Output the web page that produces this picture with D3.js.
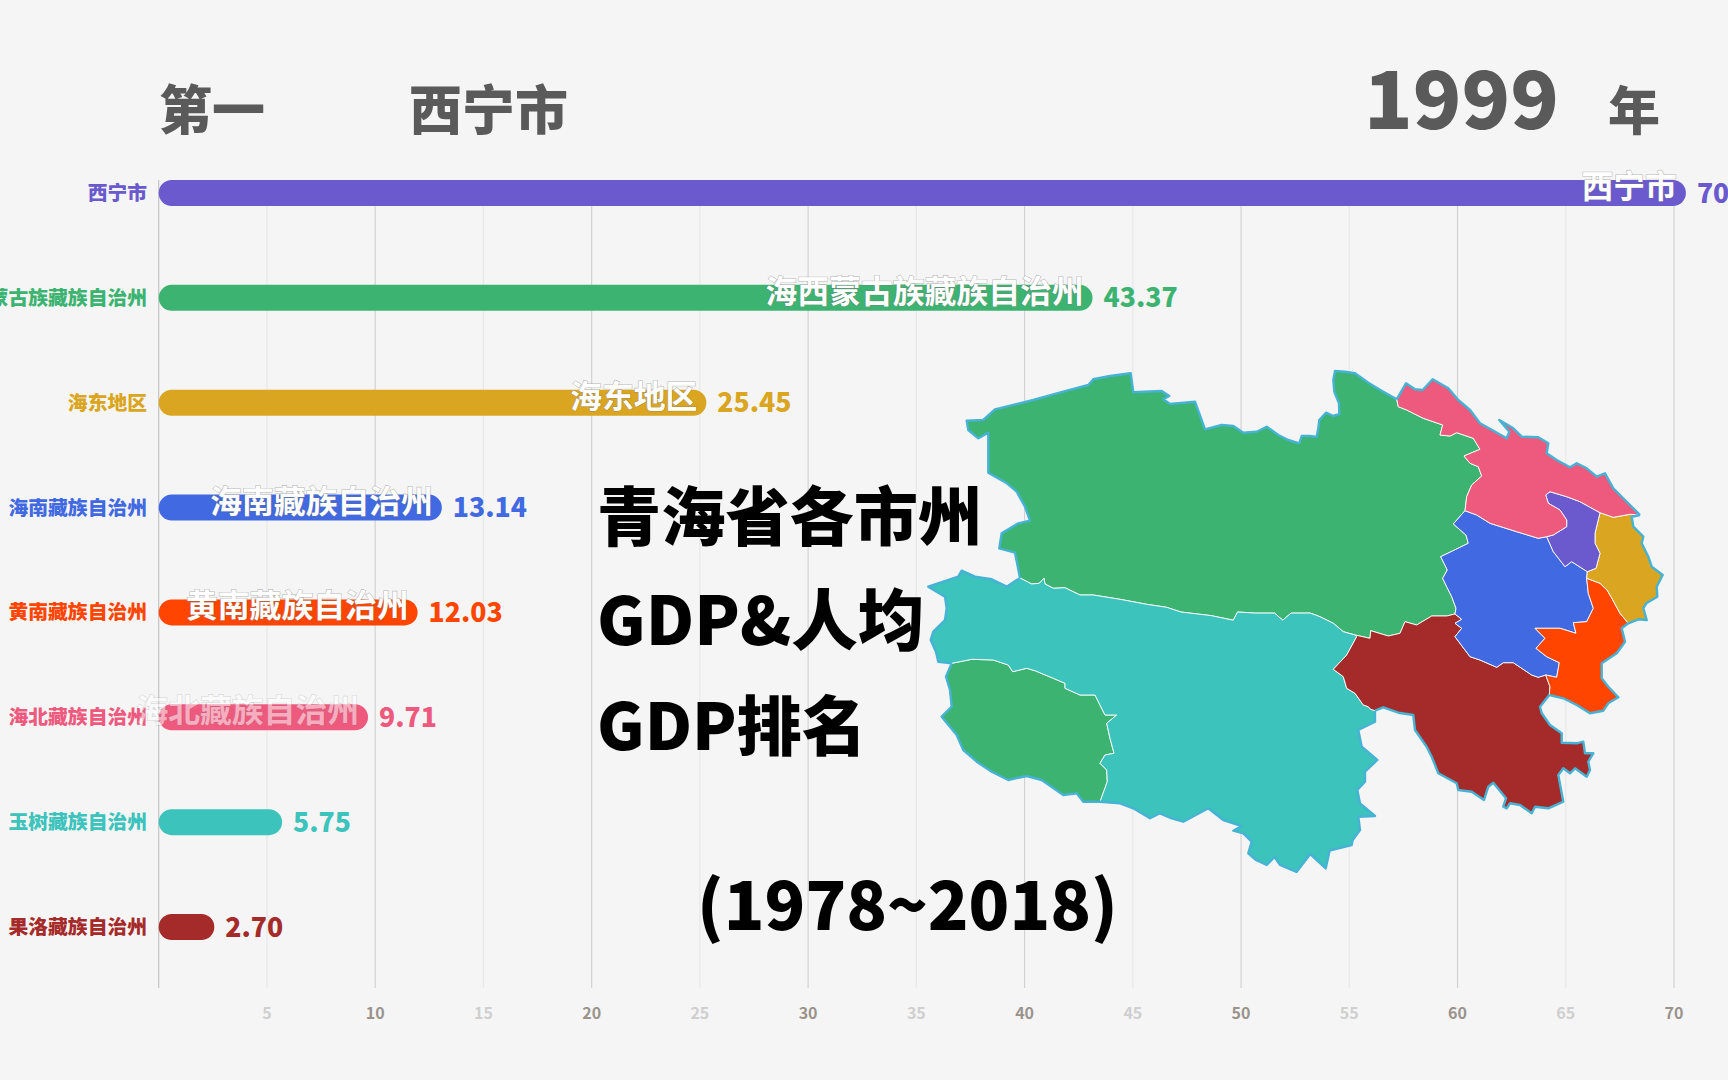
<!DOCTYPE html>
<html>
<head>
<meta charset="utf-8">
<script src="https://cdn.jsdelivr.net/npm/d3@7"></script>
<style>
  html, body { margin: 0; padding: 0; background: #f5f5f5; overflow: hidden; }
  svg { display: block; font-family: "Noto Sans CJK SC", sans-serif; }
</style>
</head>
<body>
<svg id="chart" width="1728" height="1080"></svg>
<script>
/* chart data */
const regions = ['西宁市', '海西蒙古族藏族自治州', '海东地区', '海南藏族自治州', '黄南藏族自治州', '海北藏族自治州', '玉树藏族自治州', '果洛藏族自治州'];
const labelValues = [70.81, 43.37, 25.45, 13.14, 12.03, 9.71, 5.75, 2.70];
// the bars lag a little behind their labels in this frame
const barValues = [70.55, 43.14, 25.30, 13.08, 11.96, 9.67, 5.70, 2.57];
const regionColors = ['#6a5acd', '#3cb371', '#daa520', '#4169e1', '#ff4500', '#ee5a7e', '#3bc3bc', '#a52a2a'];
const innerLabelOpacity = [1, 1, 1, 1, 1, 0.5, 0, 0];
const xTicks = [5, 10, 15, 20, 25, 30, 35, 40, 45, 50, 55, 60, 65, 70];
const titleLines = ['青海省各市州', 'GDP&人均', 'GDP排名'];

/* map outline, shared borders (map units) */
const arcNorth = [[496.7,39.3],[483.3,31.7],[468.3,22.7],[455,13.3],[445,11.7],[435,11],[433.3,20],[434.3,31.7],[439,43.3],[439.3,54],[433.3,56],[426,52.7],[419.3,60],[418.3,68.3],[416.7,77],[410,76],[401.7,76],[399.3,83.3],[388.3,80],[378.3,75],[366.7,66.7],[356.7,71.7],[343.3,72.7],[333.3,66],[321.7,65],[305,69.3],[295,41.7],[270,44],[263.3,39.3],[269.3,36],[261.7,31],[233.3,32.3],[230.7,13.3],[210,16],[193.3,19.3],[188.3,25],[163.3,31.7],[133.3,40],[95,49.3],[83.3,60],[66.7,60.7],[68.3,70],[78.3,78.3],[88.3,72.7],[88.3,112.7],[106,122.7],[116.7,131.7],[125,146.7],[130,160.7],[118.3,163.3],[101.7,173.3],[99.3,188.3],[115,192.7],[120,218]];
const arcHaixiYushu = [[120,218],[131.7,224],[139.3,223.3],[144,218.3],[145,224],[153.3,228.3],[165,227.7],[180,235],[193.3,235],[220,239.3],[246.7,244.3],[266.7,247.3],[280.8,252],[311.1,255.6],[333.2,260.2],[337.6,252],[355.2,253.1],[374.5,253.1],[382.8,260.2],[391,253.1],[410.3,253.1],[420,256.7],[433.3,263.3],[443.3,271.7],[455,275]];
const arcHaixiGuoluo = [[455,275],[470,278.3],[470.7,270.7],[488.3,276],[500,273.3],[505,261.7],[516.7,265],[531.7,256],[546.7,256],[555,254]];
const arcHaixiHainan = [[555,254],[556,248.3],[551.7,236.7],[546.7,226.7],[542.7,218.3],[547.3,210],[540.7,196.7],[568.3,183.3],[566,175],[553.3,164],[565,150.7]];
const arcHaixiHaibei = [[565,150.7],[566.7,136.7],[571.7,125],[581.7,116],[578.3,106.7],[570,103.3],[564,96],[580,89.3],[573.3,78.3],[556.7,72.7],[550,76],[540,75],[542.7,65],[523.3,58.3],[506.7,50],[498.3,46.7],[496.7,39.3]];
const arcHaibeiOuter = [[496.7,39.3],[506,23.3],[515,29.3],[522.7,30],[532.7,19.3],[548.3,28.3],[558.3,40],[570,50],[580,63.3],[606.7,78.3],[609.3,71.7],[599.3,60],[613.3,68.3],[621.7,76.7],[638.3,77.3],[648.3,83.3],[646.7,93.3],[656.7,100],[670,107.3],[676.7,103.3],[686.7,108.3],[696.7,116.7],[705,113.3],[713.3,128.3],[725,140],[740,155]];
const arcHaibeiHaidong = [[740,155],[730,154.3],[713.3,157.3],[700,152.7]];
const arcHaibeiXining = [[700,152.7],[680,141.7],[666.7,136.7],[650,131.7],[645.7,135],[648.3,143.3],[660,150],[666.7,160],[666.7,166.7],[653.3,175],[646.7,176.7]];
const arcHaibeiHainan = [[646.7,176.7],[638.3,178.3],[616.7,171.7],[590,163.3],[576.7,155],[565,150.7]];
const arcXiningHainan = [[646.7,176.7],[653.3,191.7],[665,206.7],[671.7,201.7],[687.3,211.7]];
const arcXiningHaidong = [[700,152.7],[695,173.3],[695,183.3],[700,193.3],[696,208.3],[687.3,211.7]];
const arcHaidongHainan = [[687.3,211.7],[686.7,218.3]];
const arcHaidongOuter = [[740,155],[731.7,156.7],[733.3,166.7],[743.3,176.7],[741.7,183.3],[748.3,196.7],[751.7,206.7],[762.7,215],[756.7,226.7],[757.3,236.7],[746.7,243],[743.3,248],[746.7,260],[738.3,259.3],[728.3,263.3]];
const arcHaidongHuangnan = [[728.3,263.3],[720,253.3],[711.7,238],[707,230],[700,223.3],[686.7,218.3]];
const arcHainanHuangnan = [[686.7,218.3],[688.3,233.3],[693.3,248.3],[686.7,261.7],[673.3,262.7],[676,273.3],[660,268.3],[635,268.3],[645,278.3],[636,288.3],[646.7,296.7],[659.3,302.7],[656.7,317.3],[645.7,315]];
const arcGuoluoHainan = [[645.7,315],[638.3,317.3],[631.7,315],[613.3,302.7],[603.3,302.7],[596.7,307.3],[580,300],[570,296.7],[555,276.7],[561.7,268.3],[555,263.3],[561.7,259.3],[555,254]];
const arcGuoluoHuangnan = [[645.7,315],[650,326.7],[649.3,335]];
const arcHuangnanOuter = [[649.3,335],[663.3,338.3],[676.7,345],[690,353.3],[703.3,350.7],[708.3,343.3],[718.3,337.3],[708.3,326.7],[701.7,318.3],[701.7,303.3],[716.7,293.3],[725,281.7],[721.7,268.3],[728.3,263.3]];
const arcGuoluoOuter = [[649.3,335],[640,346.7],[641.7,353.3],[650,365],[661.7,373.3],[661.7,382.7],[676.7,383.3],[683.3,381.7],[685,393.3],[693.3,393.3],[688.3,401.7],[690,410],[686.7,416.7],[675,408.3],[670,413.3],[663.3,408.3],[658.3,415],[661.7,433.3],[663.3,441.7],[648.3,448.3],[635,446.7],[631.7,453.3],[620,445],[610,443.3],[606.7,448.3],[603.3,446.7],[606,438.3],[593.3,422.7],[588.3,426.7],[584,440],[571.7,431.7],[558.3,430],[556.7,423.3],[538.3,413.3],[531.7,396.7],[526.7,386.7],[515,370],[513.3,355],[498.3,352.7],[483.3,347.3],[475,350.7]];
const arcGuoluoYushu = [[475,350.7],[470.7,349.3],[468.3,346.7],[463.3,345],[455,333.3],[446.7,328.3],[443.3,316.7],[433.3,309.3],[446.7,295],[456.7,276.7],[455,275]];
const arcYushuOuter = [[475,350.7],[475,361.7],[458.3,370],[461.7,386.7],[477.3,400],[465,411.7],[465,421.7],[457.3,430],[460,443.3],[475,456],[458.3,456.7],[460,470],[452.7,480],[451.6,485.2],[429.6,490.5],[425.7,508.4],[410.3,494],[396.5,512],[380,504.8],[374.5,497],[366.7,505],[356,500],[348.3,493.3],[351.7,481.7],[343.3,473.3],[333.3,470.7],[341.7,466],[323.3,460],[308.3,448.3],[283.3,461.7],[271.7,458.3],[260,453.3],[250,458.3],[233.3,448.3],[220,443.3],[200,441.7]];
const arcEnclaveOuter = [[200,441.7],[183.3,441.7],[176.7,433.3],[163.3,435],[141.7,420],[126.7,416],[108.3,420],[91.7,411.7],[76.7,401.7],[63.3,390],[56.7,375],[41.7,356.7],[51.7,346.7],[50,330],[46,316.7],[51.7,303.3]];
const arcEnclaveYushu = [[51.7,303.3],[65,300.7],[71.7,299.3],[93.3,300],[108.3,305],[112.7,311.7],[126.7,308.3],[135,310.7],[153.3,318.3],[165,323.3],[165,328.3],[180,335],[195,335],[205,355],[216.7,355],[206.7,363.3],[210,378.3],[214,393.3],[205,395],[200,403.3],[206.7,410],[207.3,421.7],[200,441.7]];
const arcYushuWest = [[51.7,303.3],[38.3,301.7],[36,291.7],[30.7,280],[33.3,271.7],[45,260],[46.7,248.3],[45,236.7],[28.3,226.7],[43.3,221.7],[58.3,216.7],[61.7,210.7],[75,216.7],[91.7,219.3],[106.7,226.7],[120,218]];

const rev = (arc) => arc.slice().reverse();
const ring = (...arcs) => arcs.flat();
const mapRegions = [
  { name: '海西', rings: [ring(arcNorth, arcHaixiYushu, arcHaixiGuoluo, arcHaixiHainan, arcHaixiHaibei), ring(arcEnclaveOuter, arcEnclaveYushu)] },
  { name: '玉树', rings: [ring(arcYushuWest, arcHaixiYushu, rev(arcGuoluoYushu), arcYushuOuter, rev(arcEnclaveYushu))] },
  { name: '果洛', rings: [ring(arcHaixiGuoluo, rev(arcGuoluoHainan), arcGuoluoHuangnan, arcGuoluoOuter, arcGuoluoYushu)] },
  { name: '海南', rings: [ring(arcHaixiHainan, rev(arcHaibeiHainan), arcXiningHainan, arcHaidongHainan, arcHainanHuangnan, arcGuoluoHainan)] },
  { name: '黄南', rings: [ring(arcHainanHuangnan, arcGuoluoHuangnan, arcHuangnanOuter, arcHaidongHuangnan)] },
  { name: '海东', rings: [ring(arcHaidongOuter, arcHaidongHuangnan, rev(arcHaidongHainan), rev(arcXiningHaidong), rev(arcHaibeiHaidong))] },
  { name: '西宁', rings: [ring(arcHaibeiXining, arcXiningHainan, rev(arcXiningHaidong))] },
  { name: '海北', rings: [ring(arcHaibeiOuter, arcHaibeiHaidong, arcHaibeiXining, arcHaibeiHainan, arcHaixiHaibei)] }
];
const outerArcs = [arcNorth, arcHaibeiOuter, arcHaidongOuter, arcHuangnanOuter, arcGuoluoOuter, arcYushuOuter, arcEnclaveOuter, arcYushuWest];

const svg = d3.select('#chart');
const INK = '#5a5a5a';
const FONT_BLACK = 900;

const xScale = d3.scaleLinear([0, 70], [158.7, 1674]);
const yScale = d3.scalePoint(regions, [193, 927]);
const BAR_HEIGHT = 26;
const GRID_TOP = 180;
const GRID_BOTTOM = 988;

/* grid lines and tick labels */
const axisG = svg.append('g');
const isMajor = (d) => d % 10 === 0;

axisG
  .selectAll('.grid-line')
  .data(xTicks)
  .enter()
  .append('line')
  .attr('class', 'grid-line')
  .attr('x1', (d) => xScale(d))
  .attr('x2', (d) => xScale(d))
  .attr('y1', GRID_TOP)
  .attr('y2', GRID_BOTTOM)
  .attr('stroke', (d) => (isMajor(d) ? '#d2d2d2' : '#e8e8e8'))
  .attr('stroke-width', 1.2);

axisG
  .append('line')
  .attr('x1', xScale(0))
  .attr('x2', xScale(0))
  .attr('y1', GRID_TOP)
  .attr('y2', GRID_BOTTOM)
  .attr('stroke', '#c4c4c4')
  .attr('stroke-width', 1.2);

axisG
  .selectAll('.tick-label')
  .data(xTicks)
  .enter()
  .append('text')
  .attr('class', 'tick-label')
  .attr('x', (d) => xScale(d))
  .attr('y', 1019)
  .attr('text-anchor', 'middle')
  .attr('font-size', 16)
  .attr('font-weight', 700)
  .attr('fill', (d) => (isMajor(d) ? '#99938c' : '#cfcfcf'))
  .text((d) => d);

/* big caption sits under the map and over the grid */
const captionY = [540, 645, 750];
const captionSize = [64.2, 66.5, 65];
const captionG = svg.append('g').attr('fill', '#000').attr('font-weight', FONT_BLACK);
captionG
  .selectAll('.caption')
  .data(titleLines)
  .enter()
  .append('text')
  .attr('class', 'caption')
  .attr('x', 597)
  .attr('y', (_, i) => captionY[i])
  .attr('font-size', (_, i) => captionSize[i])
  .text((d) => d);
captionG
  .append('text')
  .attr('x', 697)
  .attr('y', 930)
  .attr('font-size', 67)
  .text('(1978~2018)');

/* map */
const xMap = d3.scaleLinear([0, 800], [900, 1700]);
const yMap = d3.scaleLinear([0, 600], [360, 960]);
const mapPath = d3.geoPath(
  d3.geoTransform({
    point(x, y) {
      this.stream.point(xMap(x), yMap(y));
    }
  })
);
const mapColor = (name) => regionColors[regions.findIndex((r) => r.startsWith(name))];

const mapG = svg.append('g');
mapG
  .selectAll('.region')
  .data(mapRegions)
  .enter()
  .append('path')
  .attr('class', 'region')
  .attr('d', (d) => mapPath({ type: 'MultiPolygon', coordinates: d.rings.map((r) => [r.concat([r[0]])]) }))
  .attr('fill', (d) => mapColor(d.name))
  .attr('stroke', '#fff')
  .attr('stroke-width', 0.9)
  .attr('stroke-linejoin', 'round');
mapG
  .append('path')
  .attr('d', mapPath({ type: 'MultiLineString', coordinates: outerArcs }))
  .attr('fill', 'none')
  .attr('stroke', '#46b2d4')
  .attr('stroke-width', 2.4)
  .attr('stroke-linejoin', 'round');

/* bars */
const barG = svg.append('g');
barG
  .selectAll('.bar')
  .data(regions)
  .enter()
  .append('rect')
  .attr('class', 'bar')
  .attr('x', xScale(0))
  .attr('y', (d) => yScale(d) - BAR_HEIGHT / 2)
  .attr('width', (_, i) => xScale(barValues[i]) - xScale(0))
  .attr('height', BAR_HEIGHT)
  .attr('rx', BAR_HEIGHT / 2)
  .attr('fill', (_, i) => regionColors[i]);

barG
  .selectAll('.region-label')
  .data(regions)
  .enter()
  .append('text')
  .attr('class', 'region-label')
  .attr('x', 147)
  .attr('y', (d) => yScale(d) + 7)
  .attr('text-anchor', 'end')
  .attr('font-size', 19.8)
  .attr('font-weight', FONT_BLACK)
  .attr('fill', (_, i) => regionColors[i])
  .text((d) => d);

barG
  .selectAll('.value-label')
  .data(regions)
  .enter()
  .append('text')
  .attr('class', 'value-label')
  .attr('x', (_, i) => xScale(barValues[i]) + 11)
  .attr('y', (d) => yScale(d) + 9.5)
  .attr('font-size', 26.6)
  .attr('font-weight', FONT_BLACK)
  .attr('fill', (_, i) => regionColors[i])
  .text((_, i) => labelValues[i].toFixed(2));

barG
  .selectAll('.inner-label')
  .data(regions)
  .enter()
  .append('text')
  .attr('class', 'inner-label')
  .attr('x', (_, i) => xScale(barValues[i]) - 9)
  .attr('y', (d) => yScale(d) + 5)
  .attr('text-anchor', 'end')
  .attr('font-size', 31.8)
  .attr('font-weight', 700)
  .attr('fill', '#fff')
  .attr('stroke', '#777')
  .attr('stroke-opacity', 0.55)
  .attr('stroke-width', 1.1)
  .attr('paint-order', 'stroke')
  .attr('opacity', (_, i) => innerLabelOpacity[i])
  .text((d) => d);

/* header */
const headerG = svg.append('g').attr('fill', INK).attr('font-weight', FONT_BLACK);
headerG.append('text').attr('x', 159).attr('y', 130).attr('font-size', 53).text('第一');
headerG.append('text').attr('x', 409).attr('y', 130).attr('font-size', 53).text(regions[0]);
headerG.append('text').attr('x', 1364).attr('y', 129).attr('font-size', 80).text('1999');
headerG.append('text').attr('x', 1608).attr('y', 130).attr('font-size', 52).text('年');
</script>
</body>
</html>
